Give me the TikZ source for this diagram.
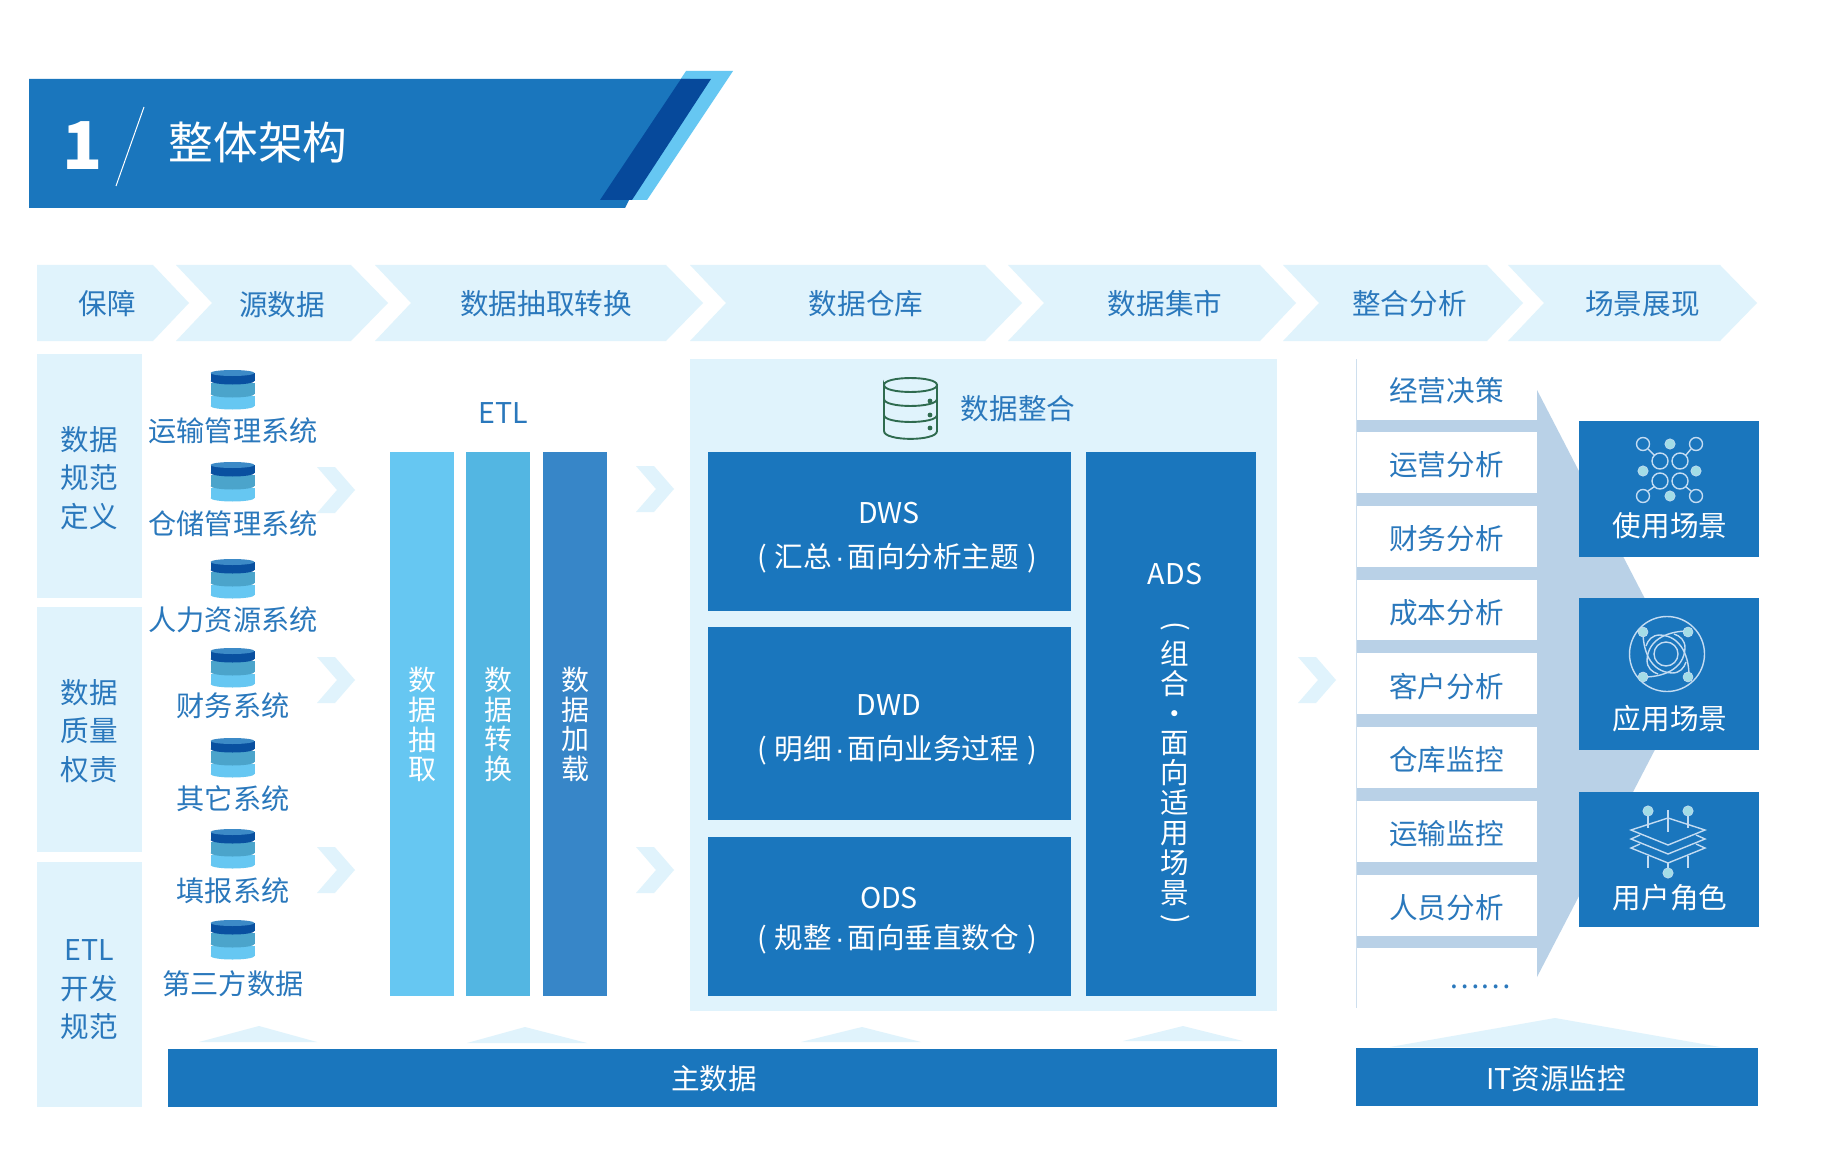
\documentclass[tikz,border=0pt]{standalone}
\usepackage{fontspec}
\setmainfont{Noto Sans CJK SC}
\newfontfamily\dotfont{Liberation Sans}
\newcommand\mdot{\hspace{3pt}{\dotfont ·}\hspace{3pt}}
\definecolor{mainblue}{HTML}{1A76BD}
\definecolor{deepblue}{HTML}{06499B}
\definecolor{skyblue}{HTML}{66C7F2}
\definecolor{midsky}{HTML}{53B6E2}
\definecolor{steelb}{HTML}{3786C8}
\definecolor{pale}{HTML}{E0F3FC}
\definecolor{arrowb}{HTML}{B9D1E7}
\definecolor{textb}{HTML}{2A78BC}
\definecolor{teal}{HTML}{A3DDE6}
\definecolor{iconline}{HTML}{C4DCF2}
\definecolor{dbgreen}{HTML}{2F6B4F}
\tikzset{
  lab/.style={inner sep=0pt,yshift=-1pt,font=\fontsize{28.6}{34}\selectfont,text=textb,align=center},
  srclab/.style={lab,font=\fontsize{28.2}{34}\selectfont},
  wlab/.style={lab,text=white},
  stacklab/.style={inner sep=0pt,align=center,text=white,font=\fontsize{28}{29.7}\selectfont},
  sidelab/.style={inner sep=0pt,align=center,text=textb,font=\fontsize{28.6}{38.5}\selectfont},
  icn/.style={draw=iconline,line width=1.4pt},
  tealdot/.style={fill=teal,draw=iconline,line width=.6pt},
  dbicon/.pic={
    \fill[skyblue] (-22,26) rectangle (22,36);
    \fill[skyblue] (0,36) ellipse [x radius=22,y radius=3.5];
    \fill[midsky!90!black] (-22,13) rectangle (22,24);
    \fill[midsky!90!black] (0,24) ellipse [x radius=22,y radius=3.5];
    \fill[deepblue!85!mainblue] (-22,3) rectangle (22,11);
    \fill[deepblue!85!mainblue] (0,11) ellipse [x radius=22,y radius=3.5];
    \fill[mainblue!85!white] (0,3) ellipse [x radius=22,y radius=3];
  }
}
\newcommand\chev[6]{% name, left, notch, right, tip, text
  \fill[pale] (#2,265) -- (#4,265) -- (#5,303) -- (#4,341) -- (#2,341) -- (#3,303) -- cycle;
}
\newcommand\smallchev[2]{% x, ycentre
  \fill[pale] (#1,#2-23) -- (#1+18,#2-23) -- (#1+38,#2) -- (#1+18,#2+23) -- (#1,#2+23) -- (#1+20,#2) -- cycle;
}
\newcommand\tri[5]{\fill[pale] (#1,#4) -- (#2,#3) -- (#5,#4) -- cycle;}
\begin{document}
\begin{tikzpicture}[x=1pt,y=-1pt]
\useasboundingbox (0,0) rectangle (1822,1150);
\fill[white] (0,0) rectangle (1822,1150);

% banner
\fill[skyblue] (686,71) -- (733,71) -- (647,200) -- (600,200) -- cycle;
\fill[mainblue] (29,79) -- (690,79) -- (625,208) -- (29,208) -- cycle;
\fill[deepblue] (681,79) -- (711,79) -- (632,200) -- (600,200) -- cycle;
\node[inner sep=0pt,text=white,font=\fontsize{66}{70}\selectfont\bfseries] (num) at (83,146) {1};
\draw[white,line width=1pt] (144,107) -- (116,186);
\node[inner sep=0pt,text=white,font=\fontsize{44.7}{50}\selectfont] (title) at (258,143) {整体架构};

% header chevrons
\fill[pale] (37,265) -- (153,265) -- (189,303) -- (153,341) -- (37,341) -- cycle;
\chev{}{176}{212}{351}{388}{}
\chev{}{375}{411}{666}{703}{}
\chev{}{690}{726}{985}{1022}{}
\chev{}{1008}{1044}{1260}{1296}{}
\chev{}{1283}{1319}{1487}{1523}{}
\chev{}{1508}{1544}{1720}{1757}{}
\node[lab] (h1) at (107,303) {保障};
\node[lab] (h2) at (282,304) {源数据};
\node[lab] (h3) at (546,303) {数据抽取转换};
\node[lab] (h4) at (866,303) {数据仓库};
\node[lab] (h5) at (1165,303) {数据集市};
\node[lab] (h6) at (1409.5,303) {整合分析};
\node[lab] (h7) at (1642.5,303) {场景展现};

% left column
\fill[pale] (37,354) rectangle (142,598);
\fill[pale] (37,607) rectangle (142,852);
\fill[pale] (37,862) rectangle (142,1107);
\node[sidelab] (s1) at (89,478) {数据\\规范\\定义};
\node[sidelab] (s2) at (89,731) {数据\\质量\\权责};
\node[sidelab] (s3) at (89,990) {ETL\\开发\\规范};

% source systems
\foreach \y/\n in {371/a,463/b,560/c,649/d,739/e,830/f,921/g}{
  \pic at (232.5,\y-1) {dbicon};
}
\node[srclab] (src1) at (233,430) {运输管理系统};
\node[srclab] (src2) at (233,523) {仓储管理系统};
\node[srclab] (src3) at (233,619) {人力资源系统};
\node[srclab] (src4) at (233,705) {财务系统};
\node[srclab] (src5) at (233,798) {其它系统};
\node[srclab] (src6) at (233,890) {填报系统};
\node[srclab] (src7) at (233,983) {第三方数据};

% small chevrons
\smallchev{317}{490}
\smallchev{317}{680}
\smallchev{317}{870}
\smallchev{636}{489}
\smallchev{636}{870}
\smallchev{1298}{680}

% ETL
\node[lab] (etl) at (503,412) {ETL};
\fill[skyblue] (390,452) rectangle (454,996);
\fill[midsky] (466,452) rectangle (530,996);
\fill[steelb] (543,452) rectangle (607,996);
\node[stacklab] (e1) at (422,724.5) {数\\据\\抽\\取};
\node[stacklab] (e2) at (498,724.5) {数\\据\\转\\换};
\node[stacklab] (e3) at (575,724.5) {数\\据\\加\\载};

% warehouse panel
\fill[pale] (690,359) rectangle (1277,1011);
\draw[dbgreen,line width=1.9pt] (884,385) .. controls (884,375.7) and (937,375.7) .. (937,385)
   .. controls (937,394.3) and (884,394.3) .. (884,385) -- (884,431)
   .. controls (884,441.5) and (937,441.5) .. (937,431) -- (937,385);
\draw[dbgreen,line width=1.9pt] (884,399) .. controls (884,408.3) and (937,408.3) .. (937,399);
\draw[dbgreen,line width=1.9pt] (884,415) .. controls (884,424.3) and (937,424.3) .. (937,415);
\fill[dbgreen] (930,401) circle (2.4) (930,415) circle (2.4) (930,428) circle (2.4);
\node[lab] (dz) at (1018,407.5) {数据整合};
\fill[mainblue] (708,452) rectangle (1071,611);
\fill[mainblue] (708,627) rectangle (1071,820);
\fill[mainblue] (708,837) rectangle (1071,996);
\fill[mainblue] (1086,452) rectangle (1256,996);
\node[wlab] (dws) at (889,512) {DWS};
\node[wlab] (dwsb) at (897,557) {(\hspace{1.5pt} 汇总\mdot 面向分析主题 \hspace{1.5pt})};
\node[wlab] (dwd) at (889,704) {DWD};
\node[wlab] (dwdb) at (897,749) {(\hspace{1.5pt} 明细\mdot 面向业务过程 \hspace{1.5pt})};
\node[wlab] (ods) at (889,897) {ODS};
\node[wlab] (odsb) at (897,938) {(\hspace{1.5pt} 规整\mdot 面向垂直数仓 \hspace{1.5pt})};
\node[wlab] (ads) at (1175,573) {ADS};
\node[wlab,rotate=-90] (pl) at (1175,625) {(};
\node[stacklab,font=\fontsize{28.6}{29.9}\selectfont] (adsv) at (1175,773) {组\\合\\·\\面\\向\\适\\用\\场\\景};
\node[wlab,rotate=-90] (pr) at (1175,918) {)};

% analysis column
\fill[arrowb] (1537,390) -- (1689,684) -- (1537,977) -- cycle;
\fill[arrowb] (1356,415) rectangle (1537,950);
\draw[arrowb!70!white,line width=1pt] (1356.5,359) -- (1356.5,1008);
\foreach \a/\b/\n in {359/420/a,432/493/b,506/567/c,580/640/d,653/714/e,727/788/f,801/862/g,875/936/h,948/1008/i}{
  \fill[white] (1357,\a) rectangle (1537,\b);
}
\node[lab] (r1) at (1446.5,390) {经营决策};
\node[lab] (r2) at (1446.5,464) {运营分析};
\node[lab] (r3) at (1446.5,538) {财务分析};
\node[lab] (r4) at (1446.5,612) {成本分析};
\node[lab] (r5) at (1446.5,686) {客户分析};
\node[lab] (r6) at (1446.5,759) {仓库监控};
\node[lab] (r7) at (1446.5,833) {运输监控};
\node[lab] (r8) at (1446.5,907) {人员分析};
\node[lab] (r9) at (1480,986) {……};

% scene boxes
\fill[mainblue] (1579,421) rectangle (1759,557);
\fill[mainblue] (1579,598) rectangle (1759,750);
\fill[mainblue] (1579,792) rectangle (1759,927);
\node[wlab] (u1) at (1670,524.5) {使用场景};
\node[wlab] (u2) at (1670,717.5) {应用场景};
\node[wlab] (u3) at (1670,896.5) {用户角色};

% network icon
\foreach \p in {(1643,444),(1696,444),(1643,496),(1696,496)} \draw[icn] \p circle (6.5);
\foreach \p in {(1660,461),(1680,461),(1660,481),(1680,481)} \draw[icn] \p circle (8);
\draw[icn] (1648,449) -- (1654.5,455.5) (1691,449) -- (1685.5,455.5) (1648,491) -- (1654.5,486.5) (1691,491) -- (1685.5,486.5);
\foreach \p in {(1670,444),(1643,471),(1696,471),(1670,496)} \fill[tealdot] \p circle (5.2);

% flower icon
\draw[icn] (1667,654) circle (37.5);
\draw[icn] (1666,654) circle (12);
\foreach \a in {0,90,180,270}{
  \begin{scope}[rotate around={\a:(1666,654)}]
    \draw[icn] (1643,632) .. controls (1643,650) and (1650,672) .. (1672,673) .. controls (1680,673) and (1684,668) .. (1686,662);
  \end{scope}
}
\foreach \p in {(1643,632),(1688,632),(1643,677),(1688,677)} \fill[tealdot] \p circle (5);

% layer icon
\draw[icn] (1668,810) -- (1668,832) (1648,816) -- (1648,828) (1688,816) -- (1688,828);
\draw[icn] (1648,856) -- (1648,868) (1688,856) -- (1688,868) (1668,863) -- (1668,869);
\draw[icn] (1631,830) -- (1668,818) -- (1705,830) -- (1668,845) -- cycle;
\draw[icn] (1640,835) -- (1631,839) -- (1668,854) -- (1705,839) -- (1696,835);
\draw[icn] (1640,844) -- (1631,848) -- (1668,863) -- (1705,848) -- (1696,844);
\foreach \p in {(1648,811),(1688,811),(1668,873)} \fill[tealdot] \p circle (5.2);

% bottom
\tri{199}{259}{1026}{1042}{317}
\tri{467}{525}{1027}{1043}{587}
\tri{801}{862}{1027}{1042}{921}
\tri{1123}{1183}{1026}{1041}{1243}
\tri{1390}{1555}{1018}{1047}{1720}
\fill[mainblue] (168,1049) rectangle (1277,1107);
\fill[mainblue] (1356,1048) rectangle (1758,1106);
\node[wlab] (mdm) at (714,1078) {主数据};
\node[wlab] (itm) at (1556,1078) {IT资源监控};
\end{tikzpicture}
\end{document}
